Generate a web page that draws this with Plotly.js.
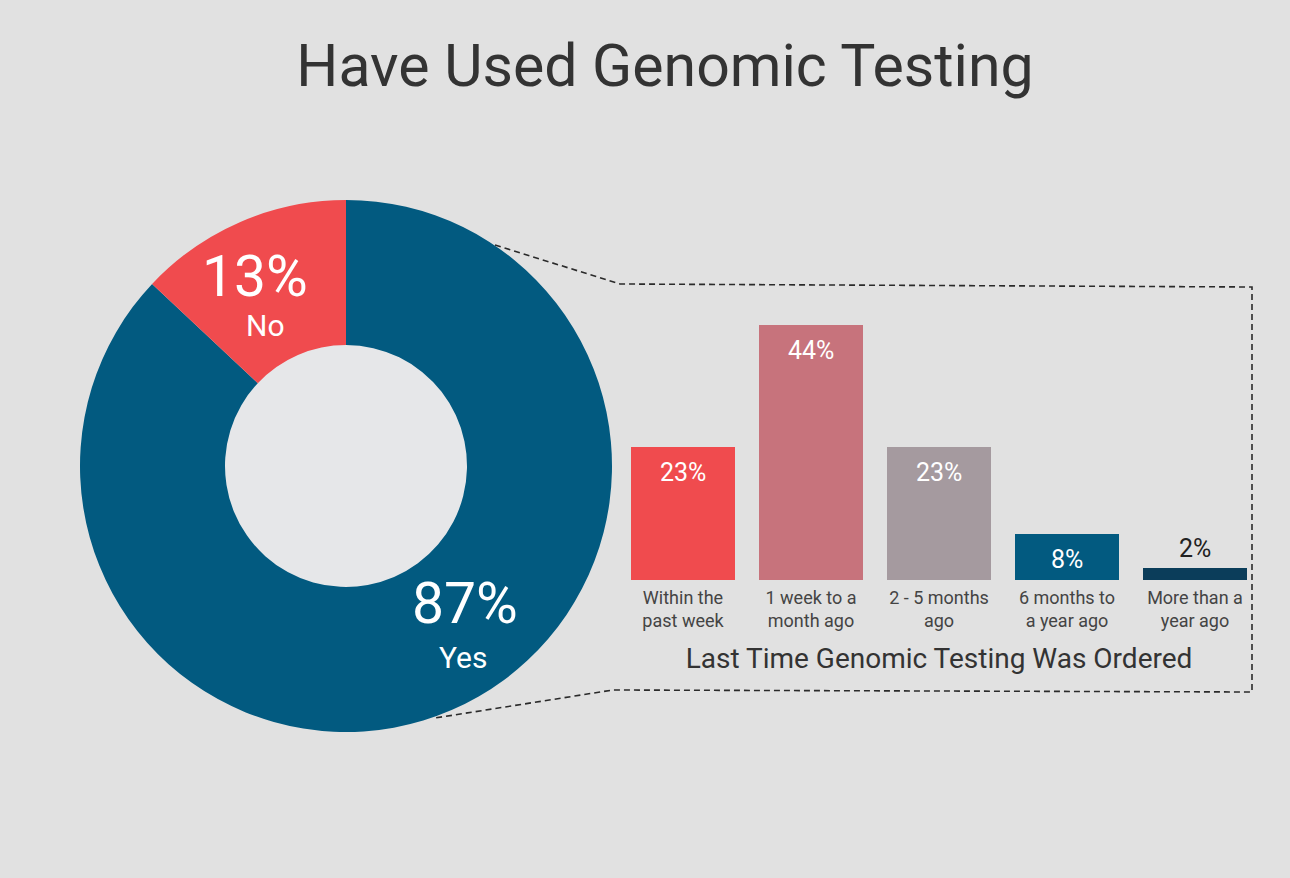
<!DOCTYPE html>
<html>
<head>
<meta charset="utf-8">
<script src="https://cdn.plot.ly/plotly-3.0.1.min.js"></script>
<style>html,body{margin:0;padding:0;background:#e1e1e1;}#chart{width:1290px;height:878px;}</style>
</head>
<body>
<div id="chart"></div>
<script>
// ---- data ----
const pieLabels = ['Yes', 'No'];
const pieValues = [87, 13];
const pieColors = ['#025a80', '#f04b4e'];

const barCategories = ['Within the<br>past week', '1 week to a<br>month ago', '2 - 5 months<br>ago', '6 months to<br>a year ago', 'More than a<br>year ago'];
const barValues = [23, 44, 23, 8, 2];
const barColors = ['#f04b4e', '#c7737c', '#a59a9f', '#025a80', '#0b3d5a'];
const barLabelColors = ['#ffffff', '#ffffff', '#ffffff', '#ffffff', '#222222'];
const barTitle = 'Last Time Genomic Testing Was Ordered';
const chartTitle = 'Have Used Genomic Testing';

// ---- helpers (pixel -> paper) ----
const W = 1290, H = 878;
const px = x => x / W;
const py = y => (H - y) / H;

const FONT = 'Roboto, Arial, sans-serif';

const pie = {
  type: 'pie',
  labels: pieLabels,
  values: pieValues,
  marker: {colors: pieColors, line: {width: 0}},
  sort: false,
  direction: 'clockwise',
  rotation: 0,
  hole: 121 / 266,
  textinfo: 'none',
  hoverinfo: 'none',
  showlegend: false,
  domain: {x: [px(80), px(612)], y: [py(732), py(200)]}
};

const bars = {
  type: 'bar',
  x: barCategories,
  y: barValues,
  marker: {color: barColors, line: {width: 0}},
  width: 104 / 128,
  hoverinfo: 'none',
  showlegend: false,
  xaxis: 'x',
  yaxis: 'y'
};

// dashed callout frame
function path(pts) {
  return 'M' + pts.map(p => px(p[0]) + ',' + py(p[1])).join(' L');
}
const dash = {color: '#2a2a2a', width: 1.6, dash: '6px,4px'};

const annotations = [];
// pie labels
const piePos = [
  {pct: [465, 603], lab: [463, 657]},
  {pct: [255, 276], lab: [265, 326]}
];
pieLabels.forEach((l, i) => {
  annotations.push({xref: 'paper', yref: 'paper', x: px(piePos[i].pct[0]), y: py(piePos[i].pct[1]),
    text: pieValues[i] + '%', showarrow: false, xanchor: 'center', yanchor: 'middle',
    font: {family: FONT, size: 57, color: '#ffffff'}});
  annotations.push({xref: 'paper', yref: 'paper', x: px(piePos[i].lab[0]), y: py(piePos[i].lab[1]),
    text: l, showarrow: false, xanchor: 'center', yanchor: 'middle',
    font: {family: FONT, size: 30, color: '#ffffff'}});
});
// bar value labels
barValues.forEach((v, i) => {
  const inside = barLabelColors[i] === '#ffffff';
  annotations.push({xref: 'x', yref: 'y', x: barCategories[i], y: v,
    text: v + '%', showarrow: false, xanchor: 'center', yanchor: 'middle',
    yshift: inside ? -26 : 20,
    font: {family: FONT, size: 25, color: barLabelColors[i]}});
});

const layout = {
  width: W, height: H,
  margin: {l: 0, r: 0, t: 0, b: 0},
  paper_bgcolor: '#e1e1e1',
  plot_bgcolor: 'rgba(0,0,0,0)',
  font: {family: FONT},
  title: {text: chartTitle, x: px(665), xanchor: 'center', xref: 'paper', y: py(65), yanchor: 'middle', yref: 'paper',
    font: {family: FONT, size: 59, color: '#333333'}},
  xaxis: {
    domain: [px(619), px(1259)],
    anchor: 'y',
    showline: false, showgrid: false, zeroline: false, ticks: '',
    ticklabelstandoff: 5,
    tickfont: {family: FONT, size: 18, color: '#444444'},
    title: {text: barTitle, standoff: 17, font: {family: FONT, size: 28, color: '#333333'}},
    fixedrange: true
  },
  yaxis: {
    domain: [py(580), py(290)],
    range: [0, 50],
    visible: false,
    fixedrange: true
  },
  shapes: [
    {type: 'circle', xref: 'paper', yref: 'paper', layer: 'below',
      x0: px(346 - 124), x1: px(346 + 124), y0: py(466 + 124), y1: py(466 - 124),
      fillcolor: '#e6e7e9', line: {width: 0}},
    {type: 'path', xref: 'paper', yref: 'paper', layer: 'below',
      path: path([[495, 245], [620, 284], [1252, 287], [1252, 692], [613, 690], [435, 718]]),
      line: dash}
  ],
  annotations: annotations,
  bargap: 0
};

Plotly.newPlot('chart', [pie, bars], layout, {displayModeBar: false, staticPlot: true});
</script>
</body>
</html>
